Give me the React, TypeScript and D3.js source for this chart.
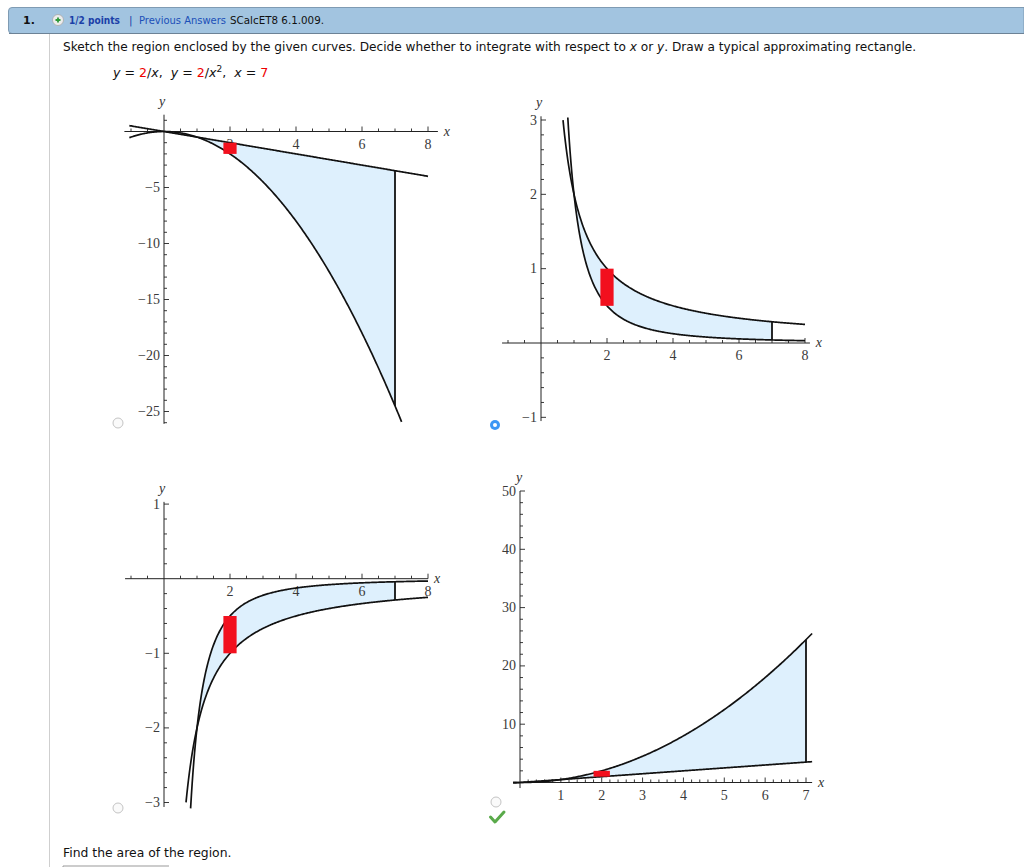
import React from 'react';
import * as d3 from 'd3';

// ---- Data (from the problem statement and the picture) ----
const COEF = 2;            // y = 2/x, y = 2/x^2
const X_MEET = 1;          // where the curves meet
const X_RIGHT = 7;         // x = 7
const RECT_X: [number, number] = [1.8, 2.2];

const A_xTicks = [2, 4, 6, 8];
const A_yTicks = [-5, -10, -15, -20, -25];
const B_xTicks = [2, 4, 6, 8];
const B_yTicks = [3, 2, 1, -1];
const C_xTicks = [2, 4, 6, 8];
const C_yTicks = [1, -1, -2, -3];
const D_xTicks = [1, 2, 3, 4, 5, 6, 7];
const D_yTicks = [10, 20, 30, 40, 50];

type Fn = (x: number) => number;
interface Curve { f: Fn; from: number; to: number; }
interface PlotCfg {
  xDom: [number, number]; xRng: [number, number];
  yDom: [number, number]; yRng: [number, number];
  xExt: [number, number]; yExt: [number, number];
  xTicks: number[]; xMinor: number;
  yTicks: number[]; yMinor: number;
  curves: Curve[];
  upper: Fn; lower: Fn;
  rectY: [number, number];
  radio: [number, number]; selected: boolean;
  yLabelDx?: number;
}

const plots: PlotCfg[] = [
  {
    xDom: [0, 8], xRng: [164, 428], yDom: [0, -25], yRng: [131.5, 411.5],
    xExt: [-1.2, 8.3], yExt: [-26.1, 1.5],
    xTicks: A_xTicks, xMinor: 0.5, yTicks: A_yTicks, yMinor: 1,
    curves: [
      { f: x => -x / COEF, from: -1.05, to: 8 },
      { f: x => -(x * x) / COEF, from: -1.05, to: 7.2 },
    ],
    upper: x => -x / COEF, lower: x => -(x * x) / COEF,
    rectY: [-1, -2], radio: [118, 423], selected: false,
  },
  {
    xDom: [0, 8], xRng: [541, 805], yDom: [0, 3], yRng: [343, 120],
    xExt: [-1.18, 8.15], yExt: [-1.05, 3.05],
    xTicks: B_xTicks, xMinor: 0.5, yTicks: B_yTicks, yMinor: 0.2,
    curves: [
      { f: x => COEF / x, from: 0.667, to: 8 },
      { f: x => COEF / (x * x), from: 0.812, to: 8 },
    ],
    upper: x => COEF / x, lower: x => COEF / (x * x),
    rectY: [0.5, 1], radio: [495, 425], selected: true,
  },
  {
    xDom: [0, 8], xRng: [164, 428], yDom: [0, -3], yRng: [578.7, 802.5],
    xExt: [-1.18, 8.0], yExt: [-3.06, 1.03],
    xTicks: C_xTicks, xMinor: 0.5, yTicks: C_yTicks, yMinor: 0.2,
    curves: [
      { f: x => -COEF / x, from: 0.667, to: 8 },
      { f: x => -COEF / (x * x), from: 0.806, to: 8 },
    ],
    upper: x => -COEF / (x * x), lower: x => -COEF / x,
    rectY: [-0.5, -1], radio: [118, 808], selected: false,
  },
  {
    xDom: [0, 7], xRng: [520, 806], yDom: [0, 50], yRng: [782.5, 491],
    xExt: [-0.17, 7.15], yExt: [-0.95, 50],
    xTicks: D_xTicks, xMinor: 0.2, yTicks: D_yTicks, yMinor: 2,
    curves: [
      { f: x => x / COEF, from: -0.17, to: 7.15 },
      { f: x => (x * x) / COEF, from: -0.17, to: 7.15 },
    ],
    upper: x => (x * x) / COEF, lower: x => x / COEF,
    rectY: [1, 2], radio: [496, 802], selected: false,
    yLabelDx: 1,
  },
];

const SERIF = '"Liberation Serif", "Times New Roman", serif';
const SANS = '"DejaVu Sans", Verdana, sans-serif';
const FILL = '#def0fd';
const RED = '#f2101e';

function fmt(v: number) {
  return v < 0 ? '\u2212' + Math.abs(v) : String(v);
}

function range(a: number, b: number, step: number) {
  const out: number[] = [];
  const n0 = Math.ceil(a / step - 1e-9);
  const n1 = Math.floor(b / step + 1e-9);
  for (let i = n0; i <= n1; i++) out.push(+(i * step).toFixed(6));
  return out;
}

function Plot({ cfg }: { cfg: PlotCfg }) {
  const x = d3.scaleLinear().domain(cfg.xDom).range(cfg.xRng);
  const y = d3.scaleLinear().domain(cfg.yDom).range(cfg.yRng);
  const x0 = x(0), y0 = y(0);
  const line = d3.line<[number, number]>().x(d => x(d[0])).y(d => y(d[1]));

  const sample = (f: Fn, a: number, b: number) => {
    const n = 300;
    return d3.range(n + 1).map(i => {
      const t = a + (b - a) * (i / n);
      return [t, f(t)] as [number, number];
    });
  };

  const top = sample(cfg.upper, X_MEET, X_RIGHT);
  const bot = sample(cfg.lower, X_MEET, X_RIGHT).reverse();
  const region = line([...top, ...bot]) + 'Z';

  const xMinor = range(cfg.xExt[0], cfg.xExt[1], cfg.xMinor).filter(v => Math.abs(v) > 1e-9);
  const yMinor = range(cfg.yExt[0], cfg.yExt[1], cfg.yMinor).filter(v => Math.abs(v) > 1e-9);
  const isMajX = (v: number) => cfg.xTicks.some(t => Math.abs(t - v) < 1e-6);
  const isMajY = (v: number) => cfg.yTicks.some(t => Math.abs(t - v) < 1e-6);

  return (
    <g>
      <path d={region} fill={FILL} stroke="none" />
      {/* axes */}
      <line x1={x(cfg.xExt[0])} x2={x(cfg.xExt[1])} y1={y0} y2={y0} stroke="#222" strokeWidth={1} />
      <line x1={x0} x2={x0} y1={y(cfg.yExt[0])} y2={y(cfg.yExt[1])} stroke="#222" strokeWidth={1} />
      {xMinor.map(v => (
        <line key={'xt' + v} x1={x(v)} x2={x(v)} y1={y0} y2={y0 - (isMajX(v) ? 5 : 3)} stroke="#222" strokeWidth={0.9} />
      ))}
      {yMinor.map(v => (
        <line key={'yt' + v} x1={x0} x2={x0 + (isMajY(v) ? 5 : 3)} y1={y(v)} y2={y(v)} stroke="#222" strokeWidth={0.9} />
      ))}
      {cfg.xTicks.map(v => (
        <text key={'xl' + v} x={x(v)} y={y0 + 17} textAnchor="middle" fontFamily={SERIF} fontSize={14} fill="#3a3a3a">{fmt(v)}</text>
      ))}
      {cfg.yTicks.map(v => (
        <text key={'yl' + v} x={x0 - 4} y={y(v) + 4.5} textAnchor="end" fontFamily={SERIF} fontSize={14} fill="#3a3a3a">{fmt(v)}</text>
      ))}
      <text x={x(cfg.xExt[1]) + 9} y={y0 + 4} fontFamily={SERIF} fontStyle="italic" fontSize={14} fill="#333" textAnchor="middle">x</text>
      <text x={x0 - 2 + (cfg.yLabelDx || 0)} y={y(cfg.yExt[1]) - 9} fontFamily={SERIF} fontStyle="italic" fontSize={14} fill="#333" textAnchor="middle">y</text>
      {/* curves */}
      {cfg.curves.map((c, i) => (
        <path key={'c' + i} d={line(sample(c.f, c.from, c.to)) || ''} fill="none" stroke="#111" strokeWidth={1.7} />
      ))}
      <line x1={x(X_RIGHT)} x2={x(X_RIGHT)} y1={y(cfg.upper(X_RIGHT))} y2={y(cfg.lower(X_RIGHT))} stroke="#111" strokeWidth={1.8} />
      {/* approximating rectangle */}
      <rect x={x(RECT_X[0])} width={x(RECT_X[1]) - x(RECT_X[0])}
        y={Math.min(y(cfg.rectY[0]), y(cfg.rectY[1]))}
        height={Math.abs(y(cfg.rectY[0]) - y(cfg.rectY[1]))} fill={RED} />
      {/* radio */}
      {cfg.selected ? (
        <g>
          <circle cx={cfg.radio[0]} cy={cfg.radio[1]} r={5} fill="#3c97f5" />
          <circle cx={cfg.radio[0]} cy={cfg.radio[1]} r={2} fill="#fff" />
        </g>
      ) : (
        <circle cx={cfg.radio[0]} cy={cfg.radio[1]} r={5} fill="#fafafa" stroke="#c4c4c4" strokeWidth={1} />
      )}
    </g>
  );
}

export default function App() {
  return (
    <svg width={1024} height={867} style={{ position: 'absolute', left: 0, top: 0, background: '#fff' }}>
      {/* header bar */}
      <path d="M12,7.5 H1024 V33.5 H12 Q8.5,33.5 8.5,30 V11 Q8.5,7.5 12,7.5 Z" fill="#a2c4e0" stroke="#7f9bb3" strokeWidth={1} />
      <line x1={9} x2={1024} y1={33.5} y2={33.5} stroke="#6c8296" strokeWidth={1.2} />
      <text x={23} y={24} fontFamily={SANS} fontWeight="bold" fontSize={11} fill="#111">1.</text>
      <circle cx={58} cy={20} r={5.5} fill="#ececec" stroke="#a8a8a8" strokeWidth={0.8} />
      <path d="M55.5,20 H60.5 M58,17.5 V22.5" stroke="#2f9a3a" strokeWidth={1.8} />
      <text x={69} y={24} fontFamily={SANS} fontWeight="bold" fontSize={10.5} fill="#1b3fa8" textLength={51} lengthAdjust="spacingAndGlyphs">1/2 points</text>
      <text x={129} y={24} fontFamily={SANS} fontSize={10.5} fill="#1b3fa8">|</text>
      <text x={139} y={24} fontFamily={SANS} fontSize={10.5} fill="#1b4fb8" textLength={87} lengthAdjust="spacingAndGlyphs">Previous Answers</text>
      <text x={230} y={24} fontFamily={SANS} fontSize={10.5} fill="#111" textLength={94} lengthAdjust="spacingAndGlyphs">SCalcET8 6.1.009.</text>

      {/* left rule */}
      <line x1={49.5} x2={49.5} y1={34} y2={867} stroke="#cfcfcf" strokeWidth={1} />

      <text x={63} y={51} fontFamily={SANS} fontSize={12.15} fill="#111">
        Sketch the region enclosed by the given curves. Decide whether to integrate with respect to <tspan fontStyle="italic">x</tspan> or <tspan fontStyle="italic">y</tspan>. Draw a typical approximating rectangle.
      </text>
      <text x={113} y={77} fontFamily={SANS} fontSize={12.6} fill="#111" xmlSpace="preserve">
        <tspan fontStyle="italic">y</tspan> = <tspan fill="#e00">{COEF}</tspan>/<tspan fontStyle="italic">x</tspan>,  <tspan fontStyle="italic">y</tspan> = <tspan fill="#e00">{COEF}</tspan>/<tspan fontStyle="italic">x</tspan><tspan dy={-5} fontSize={9}>2</tspan><tspan dy={5}>,  </tspan><tspan fontStyle="italic">x</tspan> = <tspan fill="#e00">{X_RIGHT}</tspan>
      </text>

      {plots.map((p, i) => <Plot key={i} cfg={p} />)}

      {/* check mark */}
      <path d="M490.5,817 L495,822 L504,812" fill="none" stroke="#5aaa4a" strokeWidth={3} strokeLinecap="round" strokeLinejoin="round" />

      <text x={63} y={857} fontFamily={SANS} fontSize={12.4} fill="#111">Find the area of the region.</text>
      <line x1={63} x2={169} y1={866} y2={866} stroke="#999" strokeWidth={1} />
      <line x1={63} x2={63} y1={866} y2={867} stroke="#999" strokeWidth={1} />
    </svg>
  );
}
